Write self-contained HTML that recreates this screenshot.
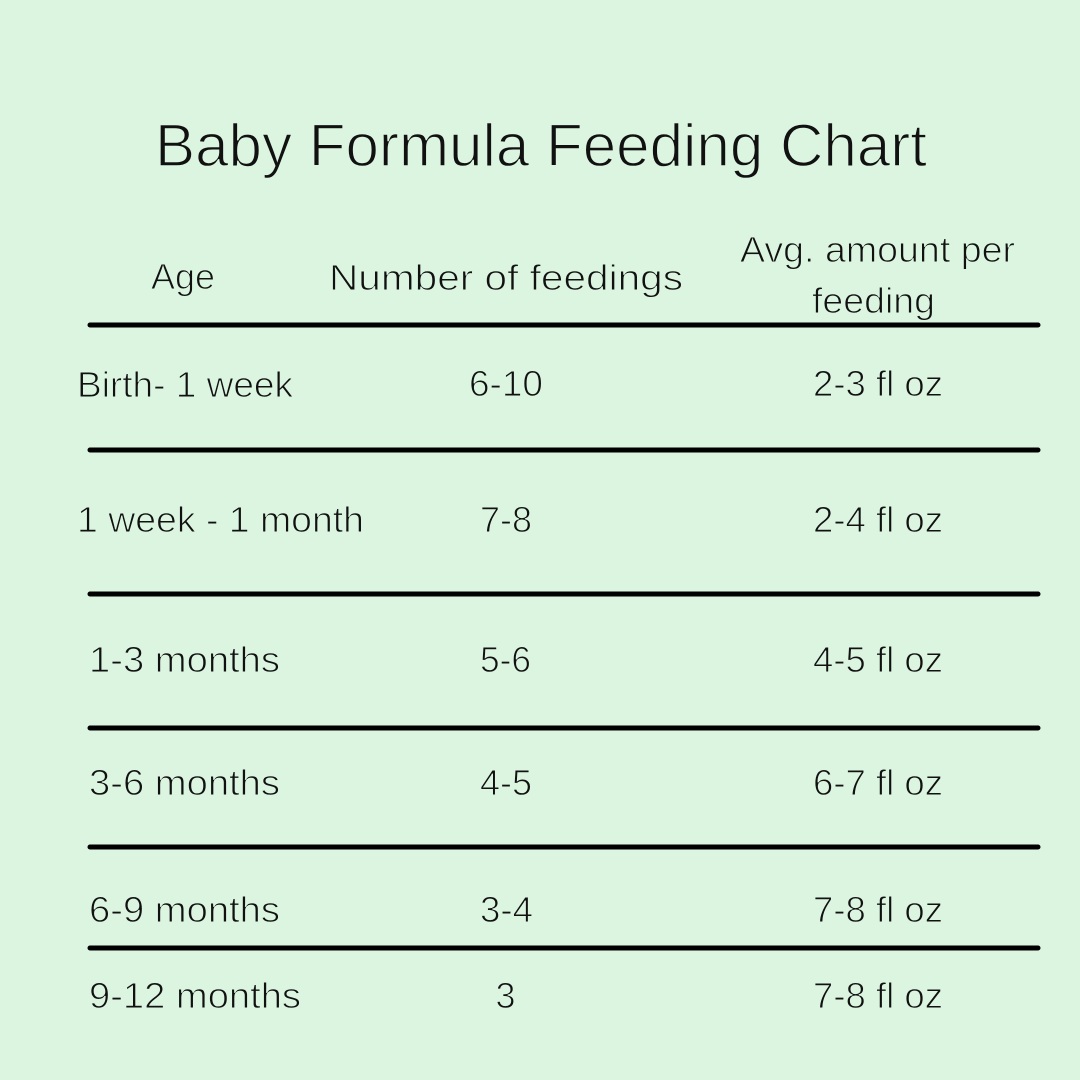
<!DOCTYPE html>
<html>
<head>
<meta charset="utf-8">
<style>
  html, body { margin: 0; padding: 0; background: #dbf5e0; }
  svg { display: block; }
  text { font-family: "Liberation Sans", "DejaVu Sans", sans-serif; fill: #111; }
</style>
</head>
<body>
<svg width="1080" height="1080" viewBox="0 0 1080 1080" xmlns="http://www.w3.org/2000/svg">
  <rect x="0" y="0" width="1080" height="1080" fill="#dbf5e0"/>

  <text x="155" y="166" font-size="60" textLength="772" lengthAdjust="spacingAndGlyphs" stroke="#dbf5e0" stroke-width="1.4">Baby Formula Feeding Chart</text>

  <g font-size="36" stroke="#dbf5e0" stroke-width="1">
    <text x="151" y="289" textLength="64" lengthAdjust="spacingAndGlyphs">Age</text>
    <text x="329" y="290" textLength="354" lengthAdjust="spacingAndGlyphs">Number of feedings</text>
    <text x="740" y="262" textLength="275" lengthAdjust="spacingAndGlyphs">Avg. amount per</text>
    <text x="812" y="313" textLength="123" lengthAdjust="spacingAndGlyphs">feeding</text>

    <text x="77" y="397" textLength="216" lengthAdjust="spacingAndGlyphs">Birth- 1 week</text>
    <text x="469" y="396" textLength="74" lengthAdjust="spacingAndGlyphs">6-10</text>
    <text x="813" y="396" textLength="130" lengthAdjust="spacingAndGlyphs">2-3 fl oz</text>

    <text x="77" y="532" textLength="287" lengthAdjust="spacingAndGlyphs">1 week - 1 month</text>
    <text x="480" y="532" textLength="52" lengthAdjust="spacingAndGlyphs">7-8</text>
    <text x="813" y="532" textLength="130" lengthAdjust="spacingAndGlyphs">2-4 fl oz</text>

    <text x="89" y="672" textLength="191" lengthAdjust="spacingAndGlyphs">1-3 months</text>
    <text x="480" y="672" textLength="51" lengthAdjust="spacingAndGlyphs">5-6</text>
    <text x="813" y="672" textLength="130" lengthAdjust="spacingAndGlyphs">4-5 fl oz</text>

    <text x="89" y="795" textLength="191" lengthAdjust="spacingAndGlyphs">3-6 months</text>
    <text x="480" y="795" textLength="52" lengthAdjust="spacingAndGlyphs">4-5</text>
    <text x="813" y="795" textLength="130" lengthAdjust="spacingAndGlyphs">6-7 fl oz</text>

    <text x="89" y="922" textLength="191" lengthAdjust="spacingAndGlyphs">6-9 months</text>
    <text x="480" y="922" textLength="53" lengthAdjust="spacingAndGlyphs">3-4</text>
    <text x="813" y="922" textLength="130" lengthAdjust="spacingAndGlyphs">7-8 fl oz</text>

    <text x="89" y="1008" textLength="212" lengthAdjust="spacingAndGlyphs">9-12 months</text>
    <text x="495.5" y="1008">3</text>
    <text x="813" y="1008" textLength="130" lengthAdjust="spacingAndGlyphs">7-8 fl oz</text>
  </g>

  <g stroke="#000" stroke-width="5" stroke-linecap="round">
    <line x1="90" y1="325" x2="1038" y2="325"/>
    <line x1="90" y1="450" x2="1038" y2="450"/>
    <line x1="90" y1="594" x2="1038" y2="594"/>
    <line x1="90" y1="728" x2="1038" y2="728"/>
    <line x1="90" y1="847" x2="1038" y2="847"/>
    <line x1="90" y1="948" x2="1038" y2="948"/>
  </g>
</svg>
</body>
</html>
